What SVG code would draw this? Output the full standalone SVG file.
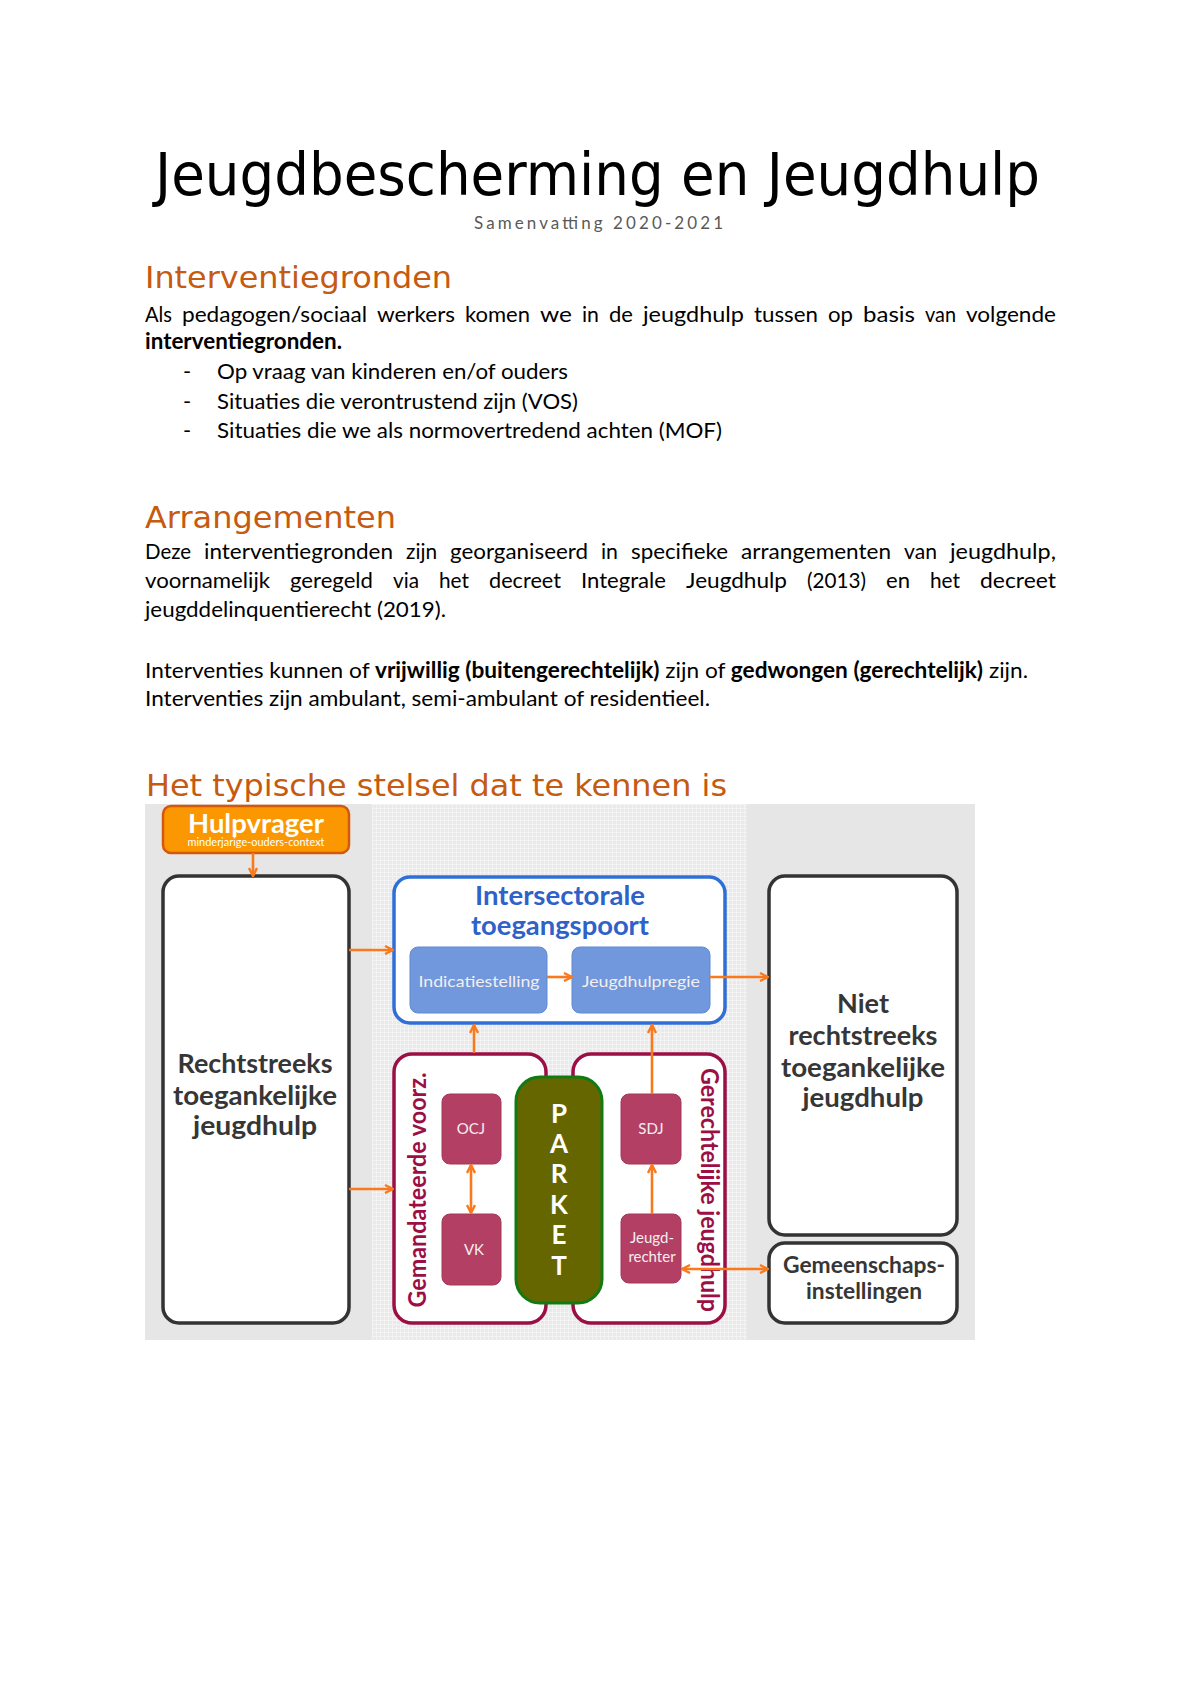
<svg xmlns="http://www.w3.org/2000/svg" width="1200" height="1698" viewBox="0 0 1200 1698">
<style>
.title{font-family:"DejaVu Sans",sans-serif;font-size:58px;fill:#000}
.sub{font-family:Lato,"Liberation Sans",sans-serif;font-size:17px;fill:#595959}
.h1{font-family:"DejaVu Sans",sans-serif;font-size:30px;fill:#c55a11}
.body{font-family:Lato,"Liberation Sans",sans-serif;font-size:22px;fill:#000}
.b{font-weight:bold}
.box{fill:#fff;stroke:#333;stroke-width:3.5}
.blue{fill:#fff;stroke:#2f6fd6;stroke-width:3.5}
.crim{fill:#fff;stroke:#9b0f45;stroke-width:3.5}
.inner{fill:#7198dc;stroke:#6389d0;stroke-width:1}
.small{fill:#b34064;stroke:#a33858;stroke-width:1}
.dtxt{font-family:Lato,"Liberation Sans",sans-serif;font-weight:bold;fill:#363636;text-anchor:middle}
.wtxt{font-family:Lato,"Liberation Sans",sans-serif;fill:#f4eef0;text-anchor:middle}
.ctxt{font-family:Lato,"Liberation Sans",sans-serif;font-weight:bold;font-size:24px;fill:#9b0f45;text-anchor:middle}
.conn{stroke:#f97a1c;stroke-width:2.6;fill:none}
</style>
<defs>
<marker id="ah" viewBox="0 0 10 10" refX="9" refY="5" markerWidth="10" markerHeight="10" markerUnits="userSpaceOnUse" orient="auto-start-reverse">
<path d="M1,1 L9,5 L1,9" fill="none" stroke="#f97a1c" stroke-width="2.4"/>
</marker>
<pattern id="grid" width="4" height="4" patternUnits="userSpaceOnUse">
<rect width="4" height="4" fill="#e9e9e9"/>
<path d="M0,0.5 H4 M0.5,0 V4" stroke="#f3f3f3" stroke-width="1"/>
</pattern>
</defs>
<rect width="1200" height="1698" fill="#fff"/>

<g id="header">
<text class="title" x="155" y="195" textLength="885" lengthAdjust="spacingAndGlyphs">Jeugdbescherming en Jeugdhulp</text>
<text class="sub" x="474" y="229" textLength="249" lengthAdjust="spacing">Samenvatting 2020-2021</text>
</g>

<g id="section-interventiegronden">
<text class="h1" x="145" y="288" textLength="307" lengthAdjust="spacingAndGlyphs">Interventiegronden</text>
<g class="body">
<text class="body" x="145" y="322" textLength="27" lengthAdjust="spacingAndGlyphs">Als</text>
<text class="body" x="182" y="322" textLength="185" lengthAdjust="spacingAndGlyphs">pedagogen/sociaal</text>
<text class="body" x="377" y="322" textLength="78" lengthAdjust="spacingAndGlyphs">werkers</text>
<text class="body" x="465" y="322" textLength="65" lengthAdjust="spacingAndGlyphs">komen</text>
<text class="body" x="540" y="322" textLength="32" lengthAdjust="spacingAndGlyphs">we</text>
<text class="body" x="582" y="322" textLength="17" lengthAdjust="spacingAndGlyphs">in</text>
<text class="body" x="609" y="322" textLength="24" lengthAdjust="spacingAndGlyphs">de</text>
<text class="body" x="643" y="322" textLength="101" lengthAdjust="spacingAndGlyphs">jeugdhulp</text>
<text class="body" x="754" y="322" textLength="64" lengthAdjust="spacingAndGlyphs">tussen</text>
<text class="body" x="828" y="322" textLength="25" lengthAdjust="spacingAndGlyphs">op</text>
<text class="body" x="863" y="322" textLength="52" lengthAdjust="spacingAndGlyphs">basis</text>
<text class="body" x="925" y="322" textLength="31" lengthAdjust="spacingAndGlyphs">van</text>
<text class="body" x="966" y="322" textLength="90" lengthAdjust="spacingAndGlyphs">volgende</text>
</g>
<text class="body b" x="145" y="349" textLength="197" lengthAdjust="spacingAndGlyphs">interventiegronden.</text>
<text class="body" x="183" y="379">-</text>
<text class="body" x="217" y="379" textLength="351" lengthAdjust="spacingAndGlyphs">Op vraag van kinderen en/of ouders</text>
<text class="body" x="183" y="409">-</text>
<text class="body" x="217" y="409" textLength="361" lengthAdjust="spacingAndGlyphs">Situaties die verontrustend zijn (VOS)</text>
<text class="body" x="183" y="438">-</text>
<text class="body" x="217" y="438" textLength="505" lengthAdjust="spacingAndGlyphs">Situaties die we als normovertredend achten (MOF)</text>
</g>

<g id="section-arrangementen">
<text class="h1" x="145" y="528" textLength="251" lengthAdjust="spacingAndGlyphs">Arrangementen</text>
<g>
<text class="body" x="145" y="559" textLength="46" lengthAdjust="spacingAndGlyphs">Deze</text>
<text class="body" x="204" y="559" textLength="189" lengthAdjust="spacingAndGlyphs">interventiegronden</text>
<text class="body" x="406" y="559" textLength="31" lengthAdjust="spacingAndGlyphs">zijn</text>
<text class="body" x="450" y="559" textLength="138" lengthAdjust="spacingAndGlyphs">georganiseerd</text>
<text class="body" x="601" y="559" textLength="17" lengthAdjust="spacingAndGlyphs">in</text>
<text class="body" x="631" y="559" textLength="97" lengthAdjust="spacingAndGlyphs">specifieke</text>
<text class="body" x="741" y="559" textLength="150" lengthAdjust="spacingAndGlyphs">arrangementen</text>
<text class="body" x="904" y="559" textLength="33" lengthAdjust="spacingAndGlyphs">van</text>
<text class="body" x="950" y="559" textLength="106" lengthAdjust="spacingAndGlyphs">jeugdhulp,</text>
</g>
<g>
<text class="body" x="145" y="588" textLength="125" lengthAdjust="spacingAndGlyphs">voornamelijk</text>
<text class="body" x="290" y="588" textLength="83" lengthAdjust="spacingAndGlyphs">geregeld</text>
<text class="body" x="393" y="588" textLength="26" lengthAdjust="spacingAndGlyphs">via</text>
<text class="body" x="439" y="588" textLength="30" lengthAdjust="spacingAndGlyphs">het</text>
<text class="body" x="489" y="588" textLength="72" lengthAdjust="spacingAndGlyphs">decreet</text>
<text class="body" x="581" y="588" textLength="85" lengthAdjust="spacingAndGlyphs">Integrale</text>
<text class="body" x="686" y="588" textLength="101" lengthAdjust="spacingAndGlyphs">Jeugdhulp</text>
<text class="body" x="807" y="588" textLength="59" lengthAdjust="spacingAndGlyphs">(2013)</text>
<text class="body" x="886" y="588" textLength="24" lengthAdjust="spacingAndGlyphs">en</text>
<text class="body" x="930" y="588" textLength="30" lengthAdjust="spacingAndGlyphs">het</text>
<text class="body" x="980" y="588" textLength="76" lengthAdjust="spacingAndGlyphs">decreet</text>
</g>
<text class="body" x="145" y="617" textLength="301" lengthAdjust="spacingAndGlyphs">jeugddelinquentierecht (2019).</text>
<text class="body" x="145" y="678" textLength="883" lengthAdjust="spacingAndGlyphs">Interventies kunnen of <tspan class="b">vrijwillig (buitengerechtelijk)</tspan> zijn of <tspan class="b">gedwongen (gerechtelijk)</tspan> zijn.</text>
<text class="body" x="145" y="706" textLength="565" lengthAdjust="spacingAndGlyphs">Interventies zijn ambulant, semi-ambulant of residentieel.</text>
</g>

<g id="background">
<rect x="145" y="804" width="830" height="536" fill="#e6e6e6"/>
<rect x="372" y="804" width="375" height="536" fill="url(#grid)"/>
</g>

<g id="heading-stelsel">
<text class="h1" x="146" y="796" textLength="581" lengthAdjust="spacingAndGlyphs">Het typische stelsel dat te kennen is</text>
</g>

<g id="node-hulpvrager">
<rect x="163" y="806" width="186" height="47" rx="8" fill="#fb9700" stroke="#d4580c" stroke-width="2.5"/>
<text x="256" y="833" font-family="Lato, 'Liberation Sans', sans-serif" font-weight="bold" font-size="27" fill="#fff" text-anchor="middle" textLength="136" lengthAdjust="spacingAndGlyphs">Hulpvrager</text>
<text x="256" y="846" font-family="Lato, 'Liberation Sans', sans-serif" font-size="11" fill="#fff" text-anchor="middle" textLength="137" lengthAdjust="spacingAndGlyphs">minderjarige-ouders-context</text>
</g>

<g id="node-rechtstreeks">
<rect class="box" x="163" y="876" width="186" height="447" rx="16"/>
<text class="dtxt" font-size="26" x="255" y="1073" textLength="155" lengthAdjust="spacingAndGlyphs">Rechtstreeks</text>
<text class="dtxt" font-size="26" x="255" y="1105" textLength="164" lengthAdjust="spacingAndGlyphs">toegankelijke</text>
<text class="dtxt" font-size="26" x="255" y="1135" textLength="124" lengthAdjust="spacingAndGlyphs">jeugdhulp</text>
</g>

<g id="node-intersectorale">
<rect class="blue" x="394" y="877" width="331" height="146" rx="16"/>
<text x="560" y="905" font-family="Lato, 'Liberation Sans', sans-serif" font-weight="bold" font-size="27" fill="#2e62c9" text-anchor="middle" textLength="170" lengthAdjust="spacingAndGlyphs">Intersectorale</text>
<text x="560" y="935" font-family="Lato, 'Liberation Sans', sans-serif" font-weight="bold" font-size="27" fill="#2e62c9" text-anchor="middle" textLength="178" lengthAdjust="spacingAndGlyphs">toegangspoort</text>
</g>

<g id="node-indicatiestelling">
<rect class="inner" x="410" y="947" width="137" height="66" rx="8"/>
<text class="wtxt" font-size="16" x="479" y="987" textLength="121" lengthAdjust="spacingAndGlyphs">Indicatiestelling</text>
</g>

<g id="node-jeugdhulpregie">
<rect class="inner" x="572" y="947" width="138" height="66" rx="8"/>
<text class="wtxt" font-size="16" x="641" y="987" textLength="118" lengthAdjust="spacingAndGlyphs">Jeugdhulpregie</text>
</g>

<g id="node-niet-rechtstreeks">
<rect class="box" x="769" y="876" width="188" height="359" rx="16"/>
<text class="dtxt" font-size="26" x="863" y="1013" textLength="52" lengthAdjust="spacingAndGlyphs">Niet</text>
<text class="dtxt" font-size="26" x="863" y="1045" textLength="149" lengthAdjust="spacingAndGlyphs">rechtstreeks</text>
<text class="dtxt" font-size="26" x="863" y="1077" textLength="164" lengthAdjust="spacingAndGlyphs">toegankelijke</text>
<text class="dtxt" font-size="26" x="863" y="1107" textLength="121" lengthAdjust="spacingAndGlyphs">jeugdhulp</text>
</g>

<g id="node-gemeenschaps">
<rect class="box" x="769" y="1243" width="188" height="80" rx="16"/>
<text class="dtxt" font-size="22" x="864" y="1273" textLength="162" lengthAdjust="spacingAndGlyphs">Gemeenschaps-</text>
<text class="dtxt" font-size="22" x="864" y="1299" textLength="116" lengthAdjust="spacingAndGlyphs">instellingen</text>
</g>

<g id="node-gemandateerde">
<rect class="crim" x="394" y="1054" width="152" height="269" rx="18"/>
<text class="ctxt" transform="translate(426,1190) rotate(-90)" x="0" y="0" textLength="235" lengthAdjust="spacingAndGlyphs">Gemandateerde voorz.</text>
</g>

<g id="node-gerechtelijke">
<rect class="crim" x="573" y="1054" width="152" height="269" rx="18"/>
<text class="ctxt" transform="translate(701,1190) rotate(90)" x="0" y="0" textLength="244" lengthAdjust="spacingAndGlyphs">Gerechtelijke jeugdhulp</text>
</g>

<g id="node-parket">
<rect x="516" y="1077" width="86" height="226" rx="24" fill="#666600" stroke="#127a12" stroke-width="3"/>
<g font-family="Lato, 'Liberation Sans', sans-serif" font-weight="bold" font-size="26" fill="#fff" text-anchor="middle">
<text x="559" y="1123">P</text>
<text x="559" y="1153">A</text>
<text x="559" y="1183">R</text>
<text x="559" y="1214">K</text>
<text x="559" y="1244">E</text>
<text x="559" y="1275">T</text>
</g>
</g>

<g id="node-ocj">
<rect class="small" x="442" y="1094" width="59" height="70" rx="8"/>
<text class="wtxt" font-size="15" x="471" y="1134">OCJ</text>
</g>

<g id="node-vk">
<rect class="small" x="442" y="1214" width="59" height="71" rx="8"/>
<text class="wtxt" font-size="15" x="474" y="1255">VK</text>
</g>

<g id="node-sdj">
<rect class="small" x="621" y="1094" width="60" height="70" rx="8"/>
<text class="wtxt" font-size="15" x="651" y="1134">SDJ</text>
</g>

<g id="node-jeugdrechter">
<rect class="small" x="621" y="1214" width="60" height="69" rx="8"/>
<text class="wtxt" font-size="15" x="652" y="1243">Jeugd-</text>
<text class="wtxt" font-size="15" x="652" y="1262">rechter</text>
</g>

<g id="connectors">
<line class="conn" x1="253" y1="853" x2="253" y2="876" marker-end="url(#ah)"/>
<line class="conn" x1="349" y1="950" x2="393" y2="950" marker-end="url(#ah)"/>
<line class="conn" x1="349" y1="1189" x2="393" y2="1189" marker-end="url(#ah)"/>
<line class="conn" x1="547" y1="977" x2="572" y2="977" marker-end="url(#ah)"/>
<line class="conn" x1="710" y1="977" x2="768" y2="977" marker-end="url(#ah)"/>
<line class="conn" x1="474" y1="1053" x2="474" y2="1025" marker-end="url(#ah)"/>
<line class="conn" x1="652" y1="1094" x2="652" y2="1025" marker-end="url(#ah)"/>
<line class="conn" x1="652" y1="1214" x2="652" y2="1165" marker-end="url(#ah)"/>
<line class="conn" x1="471" y1="1165" x2="471" y2="1213" marker-start="url(#ah)" marker-end="url(#ah)"/>
<line class="conn" x1="682" y1="1269" x2="768" y2="1269" marker-start="url(#ah)" marker-end="url(#ah)"/>
</g>
</svg>
